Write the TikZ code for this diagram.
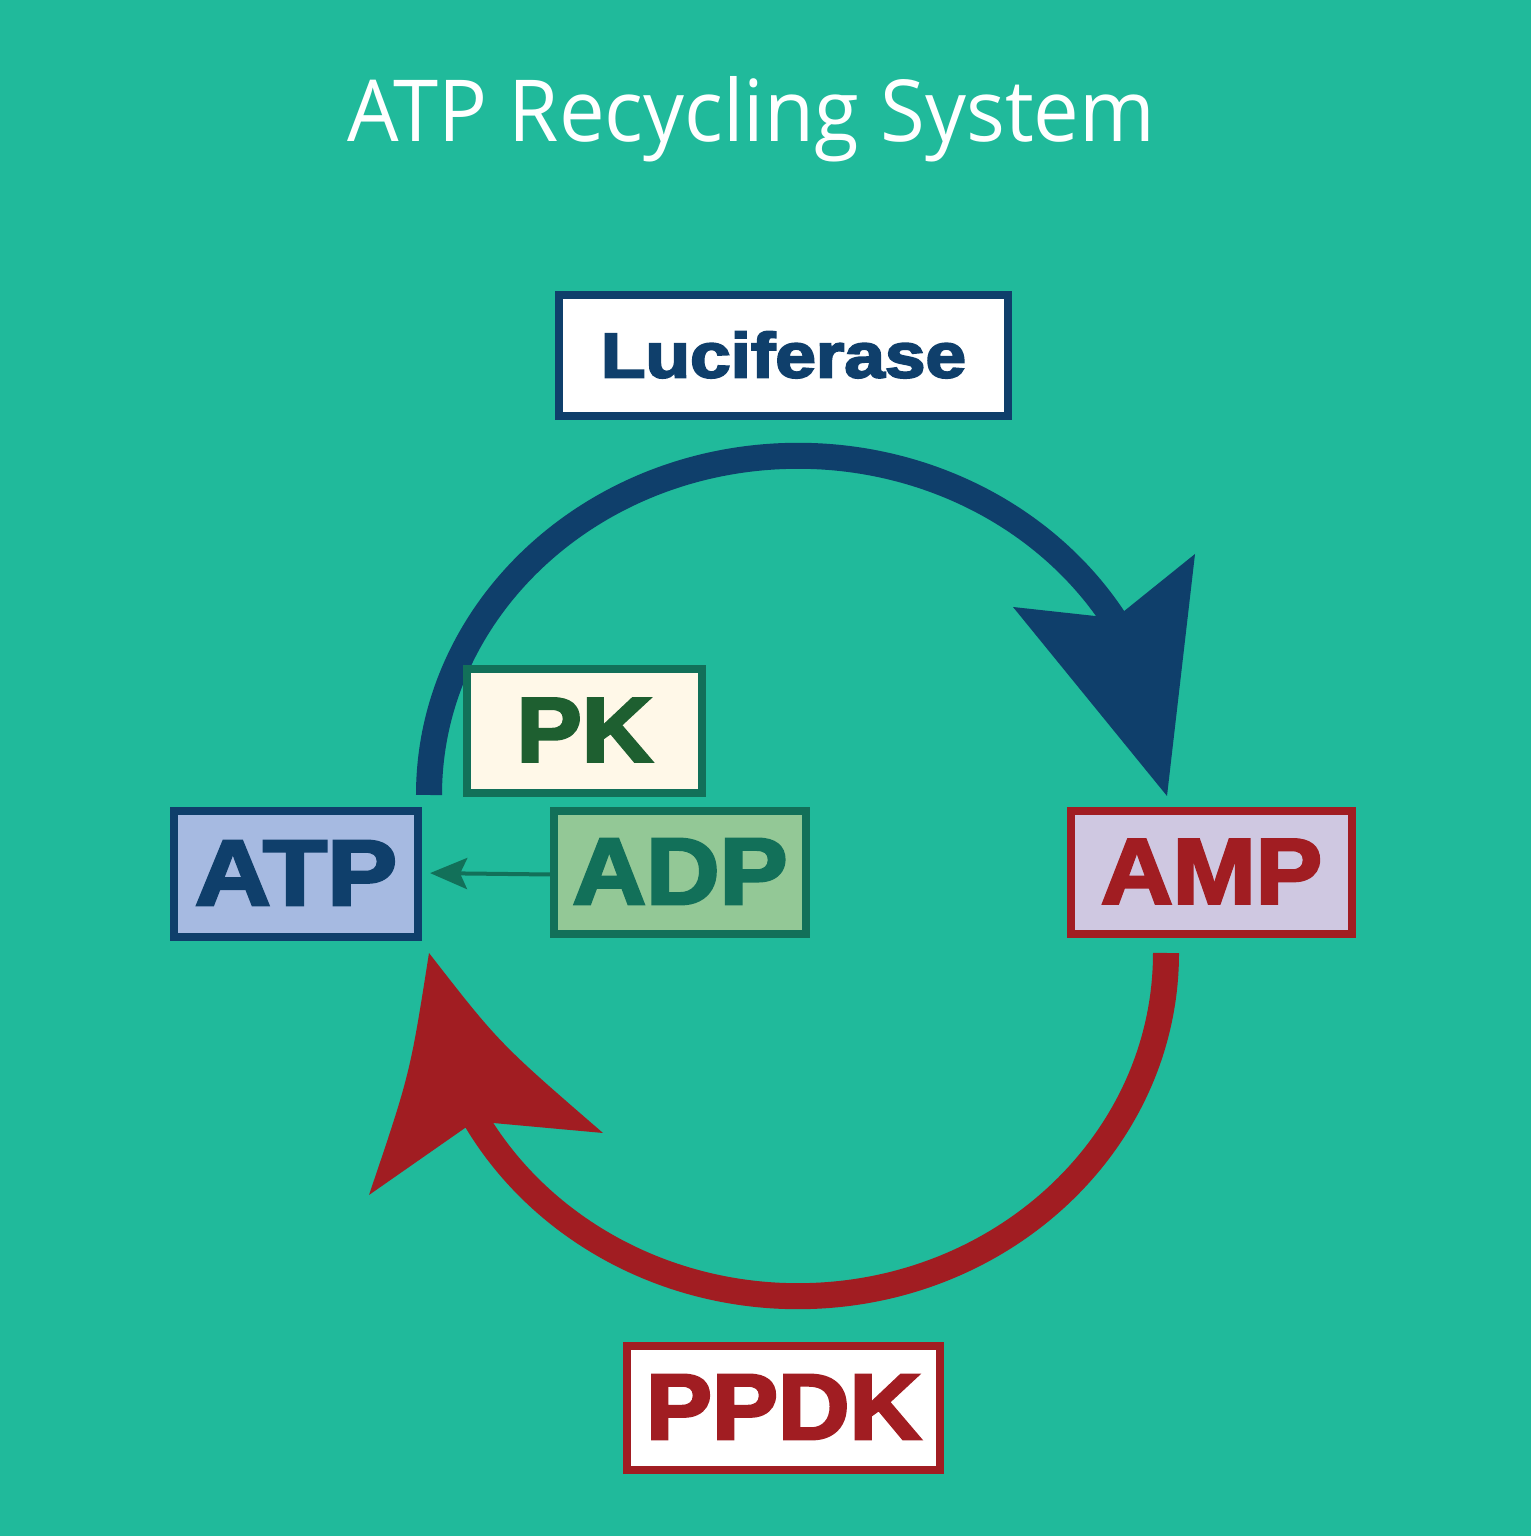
\documentclass[tikz,border=0pt]{standalone}
\usepackage{fontspec}
\usepackage{graphicx}
\usetikzlibrary{arrows.meta}
\setmainfont{Open Sans}
\newfontfamily\titlefont{Open Sans}
\newfontfamily\heavyfont[BoldFeatures={FakeBold=3}]{Liberation Sans}
\definecolor{bgc}{HTML}{20BA9B}
\definecolor{navyc}{HTML}{0F3F6B}
\definecolor{redc}{HTML}{A11D22}
\definecolor{tealc}{HTML}{127059}
\definecolor{pkgreen}{HTML}{1E5F30}
\definecolor{creamc}{HTML}{FFF8E8}
\definecolor{atpfill}{HTML}{A6BAE1}
\definecolor{adpfill}{HTML}{93C896}
\definecolor{ampfill}{HTML}{CFC8E1}
\newcommand{\fitlab}[3]{\raisebox{0.02cm}{\resizebox{#1}{#2}{\heavyfont\bfseries #3}}}
\begin{document}
\begin{tikzpicture}[x=0.01cm,y=0.01cm,
  box/.style={draw, rectangle, line width=0.08cm, inner sep=0pt},
  bigarc/.style={line width=0.26cm, line cap=butt},
  thinarrow/.style={draw=tealc, line width=0.04cm, -{Stealth[length=0.37cm,width=0.31cm,inset=0.07cm]}, shorten >=0.08cm}]
\useasboundingbox (0,0) rectangle (1531,1536);
\fill[bgc] (0,0) rectangle (1531,1536);
% title
\node[anchor=base, text=white, inner sep=0pt] (title) at (751.5,1394.3)
  {\resizebox{8.07cm}{0.65cm}{\titlefont ATP Recycling System}};
% arcs
\coordinate (bs) at (429,741);
\draw[bigarc, navyc] (bs) arc[start angle=180, end angle=30.5, x radius=3.69cm, y radius=3.39cm];
\fill[navyc] (1167,740) -- (1013,929) -- (1095,920) -- (1123,924) -- (1195,982) -- cycle;
\coordinate (rs) at (1166,583);
\draw[bigarc, redc] (rs) arc[start angle=0, end angle=-151.5, x radius=3.68cm, y radius=3.43cm];
\fill[redc] (429,583) .. controls (410,462) .. (369,341) -- (465,408) -- (493,413) -- (603,403) .. controls (499,493) .. (429,583) -- cycle;
% boxes
\node[box, draw=navyc, fill=white, minimum width=4.49cm, minimum height=1.21cm, text=navyc] (luc) at (783.5,1180.5)
  {\fitlab{3.65cm}{0.46cm}{Luciferase}};
\node[box, draw=tealc, fill=creamc, minimum width=2.35cm, minimum height=1.24cm, text=pkgreen] (pk) at (584.5,805)
  {\fitlab{1.36cm}{0.63cm}{PK}};
\node[box, draw=navyc, fill=atpfill, minimum width=2.44cm, minimum height=1.26cm, text=navyc] (atp) at (296,662)
  {\fitlab{2.02cm}{0.64cm}{ATP}};
\node[box, draw=tealc, fill=adpfill, minimum width=2.52cm, minimum height=1.23cm, text=tealc] (adp) at (680,663.5)
  {\fitlab{2.15cm}{0.65cm}{ADP}};
\node[box, draw=redc, fill=ampfill, minimum width=2.81cm, minimum height=1.23cm, text=redc] (amp) at (1211.5,663.5)
  {\fitlab{2.21cm}{0.64cm}{AMP}};
\node[box, draw=redc, fill=white, minimum width=3.13cm, minimum height=1.24cm, text=redc] (ppdk) at (783.5,128)
  {\fitlab{2.75cm}{0.64cm}{PPDK}};
% ADP -> ATP
\draw[thinarrow] ([yshift=-0.02cm]adp.west) -- ([yshift=0.01cm]atp.east);
\end{tikzpicture}
\end{document}
